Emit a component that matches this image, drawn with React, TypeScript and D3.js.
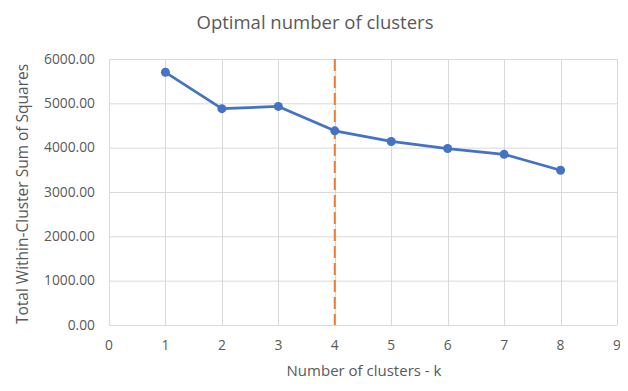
import { useEffect, useRef } from 'react'
import * as d3 from 'd3'

const clusters = [1, 2, 3, 4, 5, 6, 7, 8]
const wcss = [5700, 4880, 4930, 4380, 4140, 3980, 3850, 3490]
const xTicks = [0, 1, 2, 3, 4, 5, 6, 7, 8, 9]
const yTicks = [0, 1000, 2000, 3000, 4000, 5000, 6000]
const optimalK = 4

const W = 628, H = 391
const FONT = '"Open Sans", "Liberation Sans", sans-serif'
const GREY = '#595959'

export default function App() {
  const ref = useRef<SVGSVGElement>(null)

  useEffect(() => {
    const svg = d3.select(ref.current)
    svg.selectAll('*').remove()

    const x = d3.scaleLinear().domain([0, 9]).range([109, 617])
    const y = d3.scaleLinear().domain([0, 6000]).range([325, 59])

    svg.append('rect').attr('width', W).attr('height', H).attr('fill', '#fff')

    // gridlines
    svg.append('g').selectAll('line').data(yTicks).join('line')
      .attr('x1', x(0)).attr('x2', x(9))
      .attr('y1', d => y(d) + 0.5).attr('y2', d => y(d) + 0.5)
      .attr('stroke', '#d9d9d9').attr('stroke-width', 1)
    svg.append('g').selectAll('line').data(xTicks).join('line')
      .attr('x1', d => Math.round(x(d)) + 0.5).attr('x2', d => Math.round(x(d)) + 0.5)
      .attr('y1', y(6000)).attr('y2', y(0))
      .attr('stroke', '#d9d9d9').attr('stroke-width', 1)

    // tick labels
    svg.append('g').selectAll('text').data(yTicks).join('text')
      .attr('x', 95).attr('y', d => y(d))
      .attr('dy', '0.35em').attr('text-anchor', 'end')
      .attr('font-family', FONT).attr('font-size', 13.8).attr('fill', GREY)
      .text(d => d3.format('.2f')(d))
    svg.append('g').selectAll('text').data(xTicks).join('text')
      .attr('x', d => x(d)).attr('y', 350)
      .attr('text-anchor', 'middle')
      .attr('font-family', FONT).attr('font-size', 13.8).attr('fill', GREY)
      .text(d => String(d))

    // optimal k marker
    svg.append('line')
      .attr('x1', x(optimalK)).attr('x2', x(optimalK))
      .attr('y1', y(6000)).attr('y2', y(0))
      .attr('stroke', '#ed7d31').attr('stroke-width', 2)
      .attr('stroke-dasharray', '12,5')

    const pts = clusters.map((k, i) => [k, wcss[i]] as [number, number])
    svg.append('path').datum(pts)
      .attr('fill', 'none').attr('stroke', '#4472c4').attr('stroke-width', 2.75)
      .attr('stroke-linejoin', 'round')
      .attr('d', d3.line<[number, number]>().x(d => x(d[0])).y(d => y(d[1])))
    svg.append('g').selectAll('circle').data(pts).join('circle')
      .attr('cx', d => x(d[0])).attr('cy', d => y(d[1])).attr('r', 4.5)
      .attr('fill', '#4472c4')

    // titles
    svg.append('text').attr('x', 315).attr('y', 29).attr('text-anchor', 'middle')
      .attr('font-family', FONT).attr('font-size', 18.5).attr('fill', GREY)
      .text('Optimal number of clusters')
    svg.append('text').attr('x', 364).attr('y', 376).attr('text-anchor', 'middle')
      .attr('font-family', FONT).attr('font-size', 15).attr('fill', GREY)
      .text('Number of clusters - k')
    svg.append('text')
      .attr('transform', 'translate(28,194) rotate(-90)').attr('text-anchor', 'middle')
      .attr('font-family', FONT).attr('font-size', 15.5).attr('fill', GREY)
      .text('Total Within-Cluster Sum of Squares')
  }, [])

  return <svg ref={ref} width={W} height={H} style={{ display: 'block', margin: -8 }} />
}
